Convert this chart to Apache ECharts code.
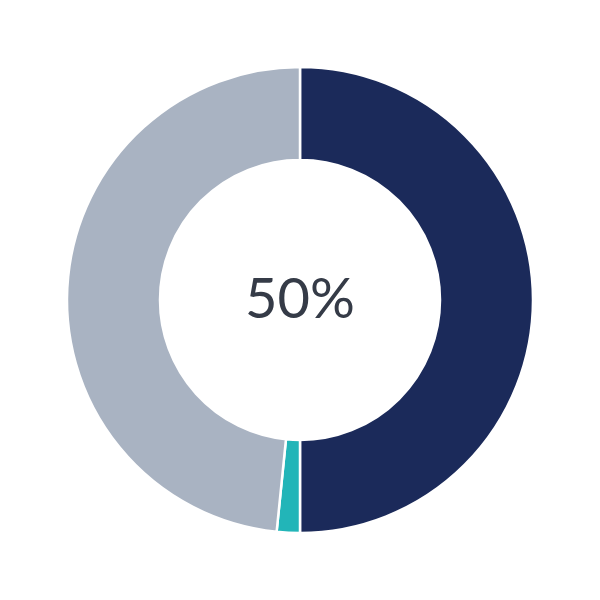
<!DOCTYPE html>
<html>
<head>
<meta charset="utf-8">
<script src="https://cdn.jsdelivr.net/npm/echarts@6/dist/echarts.min.js"></script>
<style>
  html, body { margin: 0; padding: 0; background: #fff; }
  #chart { width: 600px; height: 600px; }
</style>
</head>
<body>
<div id="chart"></div>
<script>
const categories = ['Segment A', 'Segment B', 'Segment C'];
const values = [50, 1.6, 48.4];
const colors = ['#1b2a5a', '#22b5b8', '#a9b3c2'];
const centerLabel = '50%';

const chart = echarts.init(document.getElementById('chart'), null, { renderer: 'canvas' });

chart.setOption({
  backgroundColor: '#ffffff',
  animation: false,
  title: {
    text: centerLabel,
    left: 'center',
    top: 'middle',
    textStyle: {
      fontFamily: 'Lato',
      fontWeight: 'normal',
      fontSize: 56,
      color: '#353b47',
    },
  },
  series: [
    {
      type: 'pie',
      center: ['50%', '50%'],
      radius: [140, 233],
      startAngle: 90,
      clockwise: true,
      label: { show: false },
      labelLine: { show: false },
      itemStyle: {
        borderColor: '#ffffff',
        borderWidth: 2.5,
      },
      data: categories.map((name, i) => ({
        name,
        value: values[i],
        itemStyle: { color: colors[i] },
      })),
    },
  ],
});
</script>
</body>
</html>
